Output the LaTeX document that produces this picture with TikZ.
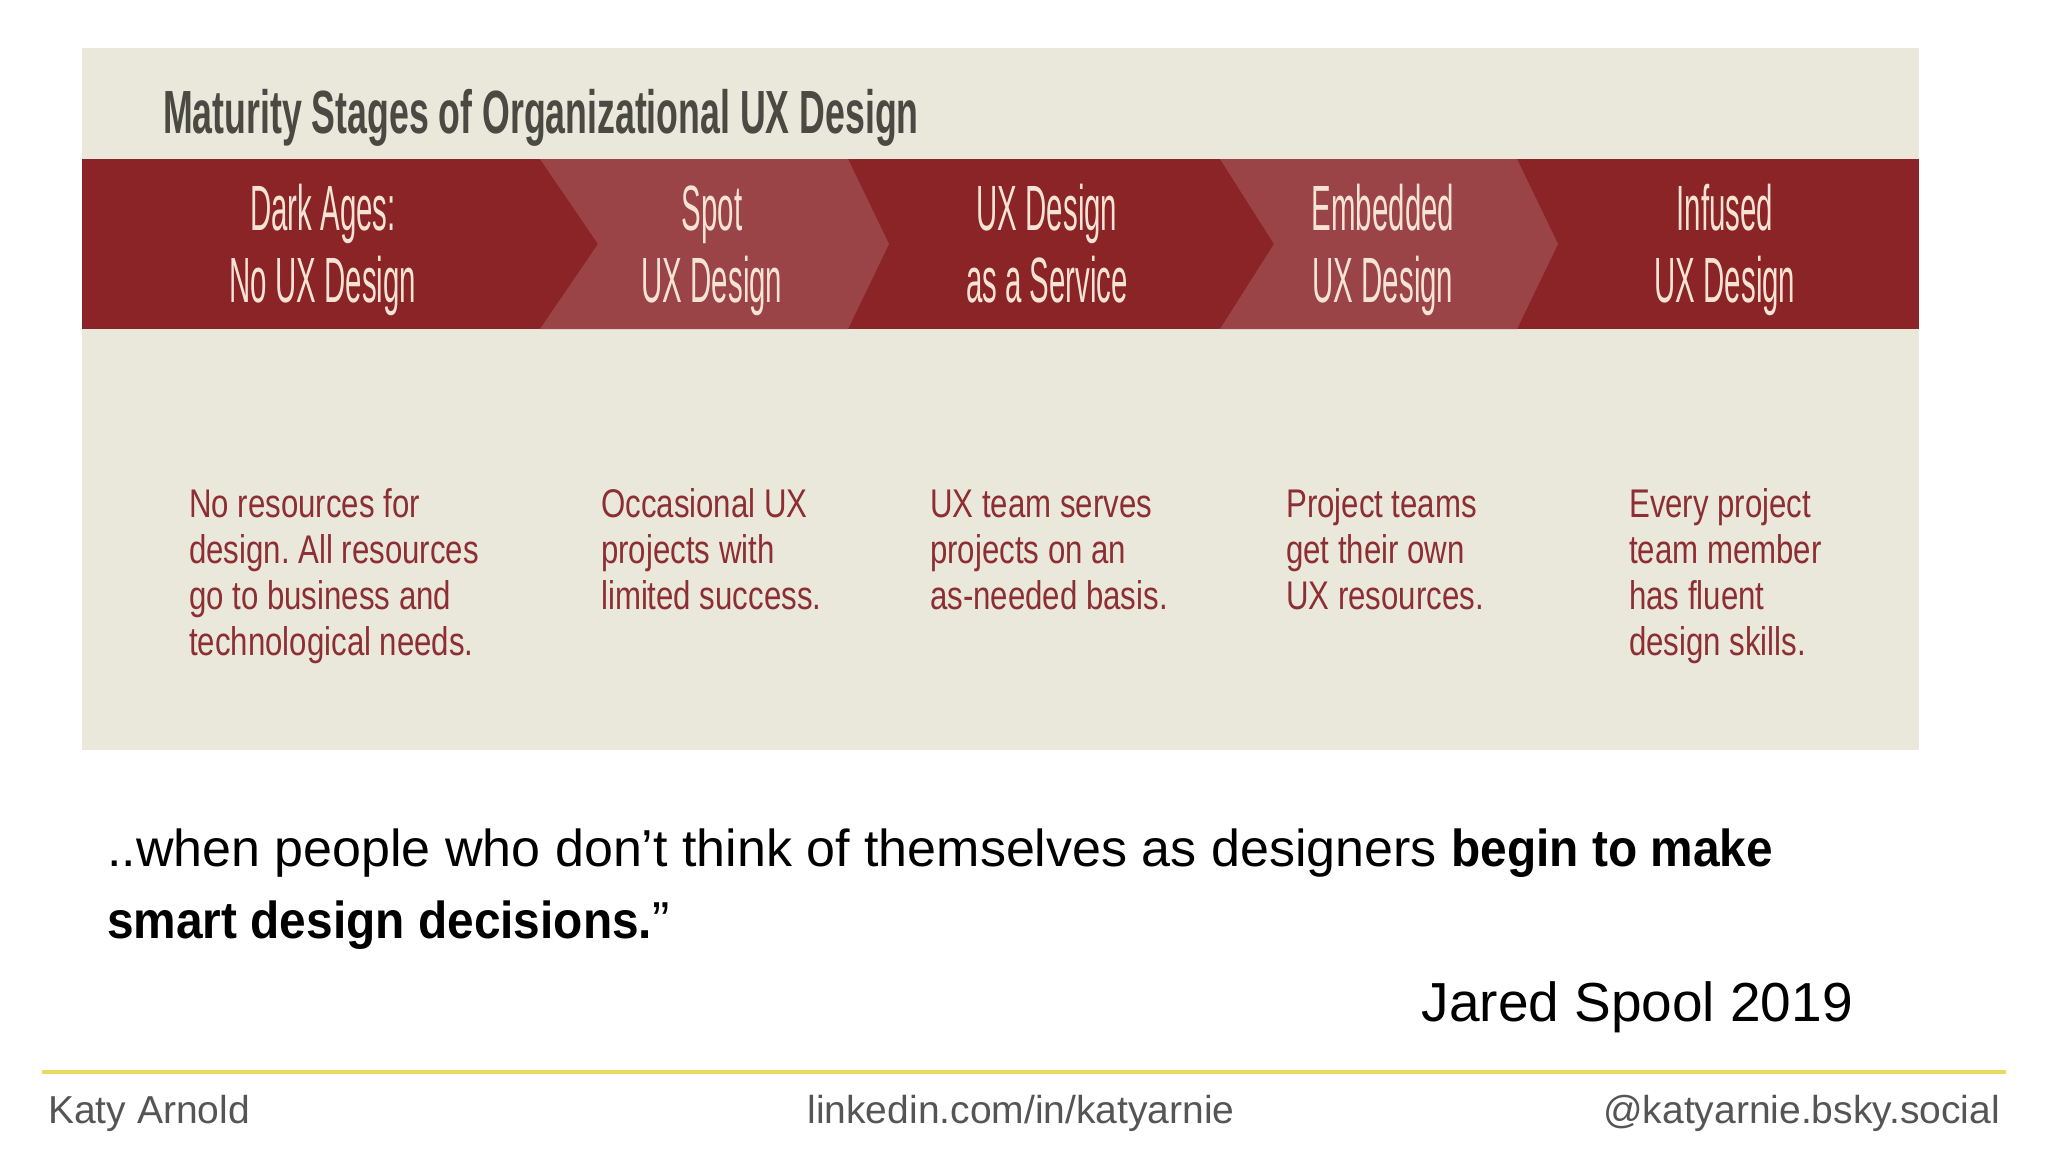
\documentclass[tikz,border=0pt]{standalone}
\usepackage{fontspec}
\setmainfont{Liberation Sans}
\newfontfamily\titlefont[FakeStretch=0.585]{Liberation Sans}
\newfontfamily\bandfont[FakeStretch=0.46]{Liberation Sans}
\newfontfamily\notefont[FakeStretch=0.78]{Liberation Sans}
\newfontfamily\quotebold[FakeStretch=0.92]{Liberation Sans}
\definecolor{panelbg}{HTML}{E9E8DB}
\definecolor{banddark}{HTML}{8A2427}
\definecolor{bandlight}{HTML}{9A4448}
\definecolor{bandtext}{HTML}{F6E3D3}
\definecolor{titlegray}{HTML}{4A4942}
\definecolor{notered}{HTML}{8C2E33}
\definecolor{rulegold}{HTML}{ECD85E}
\definecolor{footgray}{HTML}{555555}
\frenchspacing

\begin{document}
\begin{tikzpicture}[x=1pt,y=-1pt,
    stagetext/.style={anchor=base,align=center,inner sep=0pt,text=bandtext,
      font=\bandfont\fontsize{64}{72}\selectfont},
    notetext/.style={anchor=base west,align=left,inner sep=0pt,text=notered,
      font=\notefont\fontsize{40}{46}\selectfont},
    foottext/.style={inner sep=0pt,text=footgray,font=\fontsize{39}{44}\selectfont}]
    \useasboundingbox[fill=white] (0,0) rectangle (2048,1152);
    % panel and band
    \fill[panelbg] (82,48) rectangle (1919,750);
    \fill[banddark] (82,159) rectangle (1919,329);
    \fill[bandlight] (540,159) -- (848,159) -- (889,244) -- (848,329) -- (540,329) -- (598,244) -- cycle;
    \fill[bandlight] (1220,159) -- (1517,159) -- (1558,244) -- (1517,329) -- (1220,329) -- (1274,244) -- cycle;
    \node[anchor=base west,inner sep=0pt,text=titlegray,font=\titlefont\bfseries\fontsize{61}{70}\selectfont]
      (title) at (163,133) {Maturity Stages of Organizational UX Design};
    % stages (base = last line)
    \node[stagetext] (darkages) at (323,302) {Dark Ages:\\No UX Design};
    \node[stagetext] (spot) at (712,302) {Spot\\UX Design};
    \node[stagetext] (service) at (1047,302) {UX Design\\as a Service};
    \node[stagetext] (embedded) at (1383,302) {Embedded\\UX Design};
    \node[stagetext] (infused) at (1725,302) {Infused\\UX Design};
    % descriptions
    \node[notetext] (darkagesnote) at (189,655) {No resources for\\design. All resources\\go to business and\\technological needs.};
    \node[notetext] (spotnote) at (601,609) {Occasional UX\\projects with\\limited success.};
    \node[notetext] (servicenote) at (930,609) {UX team serves\\projects on an\\as-needed basis.};
    \node[notetext] (embeddednote) at (1286,609) {Project teams\\get their own\\UX resources.};
    \node[notetext] (infusednote) at (1629,655) {Every project\\team member\\has fluent\\design skills.};
    % quote
    \node[anchor=base west,align=left,inner sep=0pt,font=\fontsize{52}{72}\selectfont]
      (quote) at (107,938) {..when people who don’t think of themselves as designers {\quotebold\bfseries begin to make}\\{\quotebold\bfseries smart design decisions.}”};
    \node[anchor=base east,inner sep=0pt,font=\fontsize{55}{64}\selectfont]
      (source) at (1853,1021) {Jared Spool 2019};
    % footer
    \coordinate (ruleleft) at (42,1072);
    \coordinate (ruleright) at (2006,1072);
    \draw[rulegold,line width=4pt] (ruleleft) -- (ruleright);
    \node[foottext,anchor=base west] (author) at (48,1123) {Katy Arnold};
    \node[foottext,anchor=base] (linkedin) at (1021,1123) {linkedin.com/in/katyarnie};
    \node[foottext,anchor=base east] (bsky) at (2000,1123) {@katyarnie.bsky.social};
\end{tikzpicture}
\end{document}
